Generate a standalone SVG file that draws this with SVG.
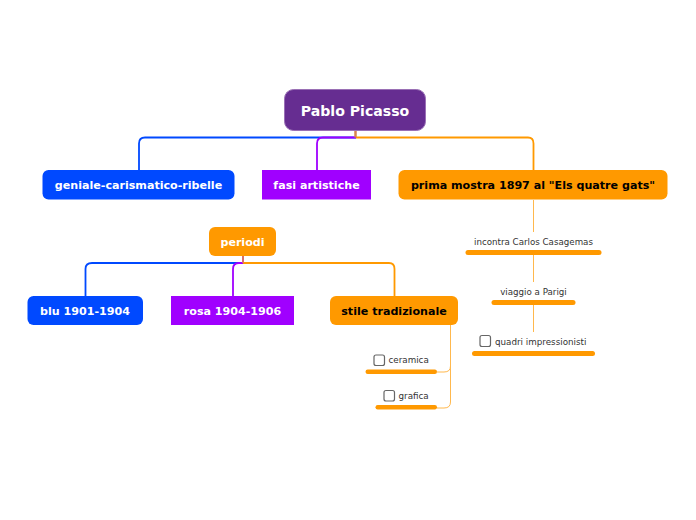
<svg xmlns="http://www.w3.org/2000/svg" width="696" height="520" viewBox="0 0 696 520">
<style>
text{font-family:"DejaVu Sans",sans-serif;text-anchor:middle}
.b{font-weight:700;font-size:11.100px}
.w{fill:#fff}
.k{fill:#000}
.s{font-size:8.750px;fill:#333;text-anchor:start}
.c{font-size:8.700px;fill:#333}
.l{fill:none;stroke-width:1.800}
.t{fill:none;stroke:#ffb84d;stroke-width:1}
.u{fill:#ff9900}
.x{fill:#fff;stroke:#666;stroke-width:1.200}
.blue{fill:#0049ff}.pur{fill:#a000ff}.or{fill:#ff9900}
</style>
<rect width="696" height="520" fill="#fff"/>
<g id="connectors">
<path class="l" stroke="#0049ff" d="M356 137.500H145Q139 137.500 139 143.500V170"/>
<path class="l" stroke="#ff9900" d="M356 137.500H528Q533.500 137.500 533.500 143.500V170"/>
<path class="l" stroke="#a000ff" d="M356 137.500H323Q317 137.500 317 143.500V170"/>
<path d="M355.500 131V137.500" stroke="#d9834c" stroke-width="2.500" fill="none"/>
<path class="t" d="M533.500 200V232M533.500 255V282M533.500 305V332"/>
<path class="l" stroke="#0049ff" d="M243 263H92Q85.500 263 85.500 269V296"/>
<path class="l" stroke="#ff9900" d="M243 263H389Q394.500 263 394.500 269V296"/>
<path class="l" stroke="#a000ff" d="M243 263H239Q233 263 233 269V296"/>
<path d="M243 256V263" stroke="#d9706c" stroke-width="2" fill="none"/>
<path class="t" d="M450.500 325V366Q450.500 372 444 372H437M450.500 366V402Q450.500 408 444 408H437"/>
</g>
<g id="n-root"><rect x="284.500" y="89.500" width="141" height="41" rx="9" fill="#662d91" stroke="#9a70b5"/><text x="355" y="115.500" font-size="14.100" font-weight="700" class="w">Pablo Picasso</text></g>
<g id="n-geniale"><rect x="42.500" y="170" width="192" height="29.500" rx="6" class="blue"/><text x="138.500" y="189" class="b w">geniale-carismatico-ribelle</text></g>
<g id="n-fasi"><rect x="262" y="170" width="109" height="29.500" class="pur"/><text x="316.500" y="189" class="b w">fasi artistiche</text></g>
<g id="n-mostra"><rect x="398.500" y="170" width="269" height="29.500" rx="6" class="or"/><text x="533" y="189" class="b k">prima mostra 1897 al "Els quatre gats"</text></g>
<g id="n-periodi"><rect x="209" y="227" width="67" height="29" rx="6" class="or"/><text x="242.500" y="246" class="b w">periodi</text></g>
<g id="n-blu"><rect x="27.500" y="296" width="115.500" height="29" rx="6" class="blue"/><text x="85" y="315" class="b w">blu 1901-1904</text></g>
<g id="n-rosa"><rect x="171" y="296" width="123" height="29" class="pur"/><text x="232.500" y="315" class="b w">rosa 1904-1906</text></g>
<g id="n-stile"><rect x="330" y="296" width="128" height="29" rx="6" class="or"/><text x="394" y="315" class="b k">stile tradizionale</text></g>
<g id="n-incontra"><text x="533.500" y="245" class="c">incontra Carlos Casagemas</text><rect x="465.500" y="250" width="136" height="5" rx="2.500" class="u"/></g>
<g id="n-viaggio"><text x="533.500" y="295" class="c">viaggio a Parigi</text><rect x="491.500" y="300" width="84" height="5" rx="2.500" class="u"/></g>
<g id="n-quadri"><rect x="480" y="335.500" width="10.500" height="11" rx="2" class="x"/><text x="495" y="345" class="s">quadri impressionisti</text><rect x="472" y="351" width="123" height="5" rx="2.500" class="u"/></g>
<g id="n-ceramica"><rect x="374" y="355" width="10.500" height="10.500" rx="2" class="x"/><text x="388.500" y="363" class="s">ceramica</text><rect x="365.500" y="369.500" width="71.500" height="4.500" rx="2.200" class="u"/></g>
<g id="n-grafica"><rect x="384" y="390.500" width="10.500" height="10.500" rx="2" class="x"/><text x="398.500" y="399" class="s">grafica</text><rect x="375.500" y="405" width="61.500" height="4.500" rx="2.200" class="u"/></g>
</svg>
